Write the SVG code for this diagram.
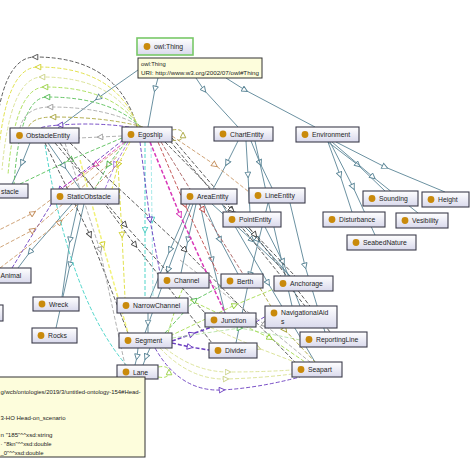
<svg xmlns="http://www.w3.org/2000/svg" width="474" height="474" viewBox="0 0 474 474">
<defs>
<linearGradient id="g" x1="0" y1="0" x2="0" y2="1"><stop offset="0" stop-color="#ffffff"/><stop offset="1" stop-color="#d9d9ec"/></linearGradient>
<marker id="m-s" viewBox="0 0 10 10" refX="5" refY="5" markerWidth="7" markerHeight="7" markerUnits="userSpaceOnUse" orient="auto"><path d="M1,1 L9,5 L1,9 z" fill="#fff" stroke="#5a8596" stroke-width="1.3"/></marker>
<marker id="m-k" viewBox="0 0 10 10" refX="5" refY="5" markerWidth="7" markerHeight="7" markerUnits="userSpaceOnUse" orient="auto"><path d="M1,1 L9,5 L1,9 z" fill="#fff" stroke="#4a4a4a" stroke-width="1.3"/></marker>
<marker id="m-y" viewBox="0 0 10 10" refX="5" refY="5" markerWidth="7" markerHeight="7" markerUnits="userSpaceOnUse" orient="auto"><path d="M1,1 L9,5 L1,9 z" fill="#fff" stroke="#cfcf2a" stroke-width="1.3"/></marker>
<marker id="m-y2" viewBox="0 0 10 10" refX="5" refY="5" markerWidth="7" markerHeight="7" markerUnits="userSpaceOnUse" orient="auto"><path d="M1,1 L9,5 L1,9 z" fill="#fff" stroke="#c8d080" stroke-width="1.3"/></marker>
<marker id="m-l" viewBox="0 0 10 10" refX="5" refY="5" markerWidth="7" markerHeight="7" markerUnits="userSpaceOnUse" orient="auto"><path d="M1,1 L9,5 L1,9 z" fill="#fff" stroke="#96d040" stroke-width="1.3"/></marker>
<marker id="m-g" viewBox="0 0 10 10" refX="5" refY="5" markerWidth="7" markerHeight="7" markerUnits="userSpaceOnUse" orient="auto"><path d="M1,1 L9,5 L1,9 z" fill="#fff" stroke="#50b850" stroke-width="1.3"/></marker>
<marker id="m-gr" viewBox="0 0 10 10" refX="5" refY="5" markerWidth="7" markerHeight="7" markerUnits="userSpaceOnUse" orient="auto"><path d="M1,1 L9,5 L1,9 z" fill="#fff" stroke="#999" stroke-width="1.3"/></marker>
<marker id="m-o" viewBox="0 0 10 10" refX="5" refY="5" markerWidth="7" markerHeight="7" markerUnits="userSpaceOnUse" orient="auto"><path d="M1,1 L9,5 L1,9 z" fill="#fff" stroke="#a6a238" stroke-width="1.3"/></marker>
<marker id="m-p" viewBox="0 0 10 10" refX="5" refY="5" markerWidth="7" markerHeight="7" markerUnits="userSpaceOnUse" orient="auto"><path d="M1,1 L9,5 L1,9 z" fill="#fff" stroke="#6a3cc0" stroke-width="1.3"/></marker>
<marker id="m-p2" viewBox="0 0 10 10" refX="5" refY="5" markerWidth="7" markerHeight="7" markerUnits="userSpaceOnUse" orient="auto"><path d="M1,1 L9,5 L1,9 z" fill="#fff" stroke="#a070e0" stroke-width="1.3"/></marker>
<marker id="m-m" viewBox="0 0 10 10" refX="5" refY="5" markerWidth="7" markerHeight="7" markerUnits="userSpaceOnUse" orient="auto"><path d="M1,1 L9,5 L1,9 z" fill="#fff" stroke="#d838b8" stroke-width="1.3"/></marker>
<marker id="m-c" viewBox="0 0 10 10" refX="5" refY="5" markerWidth="7" markerHeight="7" markerUnits="userSpaceOnUse" orient="auto"><path d="M1,1 L9,5 L1,9 z" fill="#fff" stroke="#3cc8bc" stroke-width="1.3"/></marker>
<marker id="m-t" viewBox="0 0 10 10" refX="5" refY="5" markerWidth="7" markerHeight="7" markerUnits="userSpaceOnUse" orient="auto"><path d="M1,1 L9,5 L1,9 z" fill="#fff" stroke="#c48f5e" stroke-width="1.3"/></marker>
<marker id="m-r" viewBox="0 0 10 10" refX="5" refY="5" markerWidth="7" markerHeight="7" markerUnits="userSpaceOnUse" orient="auto"><path d="M1,1 L9,5 L1,9 z" fill="#fff" stroke="#c04848" stroke-width="1.3"/></marker>
<style>
.n rect{fill:url(#g);stroke:#3c3c4c;stroke-width:1.1}
.n circle{fill:#c98a0b}
.n text{font-family:"Liberation Sans",Arial,sans-serif;font-size:6.8px;fill:#1e1e1e}
.tip rect{fill:#fdfddc;stroke:#333;stroke-width:1}
.tip text{font-family:"Liberation Sans",Arial,sans-serif;font-size:5.8px;fill:#222}
#connectors path{fill:none;stroke-width:0.9}
.s{stroke:#5a8596;marker-mid:url(#m-s)}
.d{stroke-dasharray:4 2}
.k{stroke:#4a4a4a;marker-mid:url(#m-k)}
.y{stroke:#dede3a;marker-mid:url(#m-y)}
.y2{stroke:#d8e090;marker-mid:url(#m-y2)}
.yl{stroke:#f2f27a;marker-mid:url(#m-y)}
.l{stroke:#a6dc50;marker-mid:url(#m-l)}
.g{stroke:#58c058;marker-mid:url(#m-g)}
.g2{stroke:#b8e4a8;marker-mid:url(#m-g)}
.gr{stroke:#a8a8a8;marker-mid:url(#m-gr)}
.o{stroke:#aaa640;marker-mid:url(#m-o)}
.p{stroke:#6a3cc0;marker-mid:url(#m-p)}
.p2{stroke:#a070e0;marker-mid:url(#m-p2)}
.m{stroke:#d838b8;marker-mid:url(#m-m)}
.c{stroke:#3cd0c4;marker-mid:url(#m-c)}
.c2{stroke:#9ee6e6;marker-mid:url(#m-c)}
.t{stroke:#c99a6a;marker-mid:url(#m-t)}
.r{stroke:#c04848;marker-mid:url(#m-r)}
.r2{stroke:#a86060;marker-mid:url(#m-r)}
.nm{marker-mid:none}
#connectors path.w{stroke-width:1.5}
</style>
</defs>
<rect width="474" height="474" fill="#fff"/>
<g id="connectors">
<path class="s" d="M138,70 L98,98 L58,128"/>
<path class="s" d="M158,78 L155,89 L148,127"/>
<path class="s" d="M196,78 L204,90 L238,127"/>
<path class="s" d="M226,78 L245,90 L315,127"/>
<path class="s" d="M238,141 L227,163 L213,189"/>
<path class="s" d="M246,141 L248,175 L250,212"/>
<path class="s" d="M251,141 L260,163 L272,188"/>
<path class="s" d="M255,141 L273,223 L292,306"/>
<path class="s" d="M328,142 L358,165 L385,191"/>
<path class="s" d="M336,142 L385,167 L445,192"/>
<path class="s" d="M332,142 L373,177 L418,213"/>
<path class="s" d="M328,142 L340,175 L352,212"/>
<path class="s" d="M330,142 L353,187 L375,235"/>
<path class="s" d="M48,143 L64,166 L80,189"/>
<path class="s" d="M30,143 L22,163 L12,184"/>
<path class="s" d="M78,204 L70,240 L62,297"/>
<path class="s" d="M84,204 L70,265 L56,328"/>
<path class="s" d="M72,204 L30,252 L18,268"/>
<path class="s" d="M196,204 L188,240 L181,273"/>
<path class="s" d="M204,204 L220,240 L238,274"/>
<path class="s" d="M212,204 L252,240 L290,276"/>
<path class="s" d="M222,204 L268,283 L315,362"/>
<path class="s" d="M190,204 L170,250 L150,298"/>
<path class="s" d="M200,204 L212,260 L225,313"/>
<path class="s" d="M193,204 L168,270 L145,333"/>
<path class="s" d="M138,348 L137,357 L135,365"/>
<path class="s" d="M150,348 L146,357 L143,365"/>
<path class="s" d="M148,313 L148,323 L148,333"/>
<path class="s" d="M245,227 L258,240 L290,276"/>
<path class="s" d="M265,227 L283,262 L300,306"/>
<path class="s" d="M290,203 L305,266 L325,332"/>
<path class="s" d="M268,203 L250,275 L236,343"/>
<path class="d k" d="M137,127 Q118,57 35,57 Q0,57 -6,150"/>
<path class="d y" d="M138,127 Q116,67 38,67 Q5,67 -2,160"/>
<path class="d y2" d="M139,127 Q114,77 42,77 Q10,77 2,170"/>
<path class="d l" d="M140,127 Q112,87 45,87 Q15,87 8,175"/>
<path class="d g" d="M141,127 Q110,97 47,97 Q20,97 14,184"/>
<path class="d gr" d="M142,127 Q108,107 50,107 Q25,107 20,128"/>
<path class="d o" d="M143,127 Q106,117 53,117 Q32,117 28,128"/>
<path class="d p" d="M135,128 Q100,122 60,125 Q45,126 40,128"/>
<path class="d p" d="M123,140 L60,190 L12,268"/>
<path class="d m" d="M125,142 L95,165 L60,189"/>
<path class="d g" d="M126,142 L108,165 L95,189"/>
<path class="d p2" d="M128,142 L115,165 L105,189"/>
<path class="d y" d="M130,142 L118,165 L112,189"/>
<path class="d gr" d="M122,136 L100,137 L79,138"/>
<path class="d g" d="M122,138 L70,160 L20,184"/>
<path class="d t" d="M-5,232 L33,213 L120,148"/>
<path class="d t" d="M-5,250 L33,230 L118,156"/>
<path class="d t" d="M0,268 L60,222 L122,160"/>
<path class="d c nm" d="M45,145 Q70,300 127,366"/>
<path class="d c" d="M145,142 L145,230 L145,298"/>
<path class="d c2" d="M151,142 L152,220 L153,298"/>
<path class="d r" d="M158,142 L185,205 L218,274"/>
<path class="d r2" d="M161,142 L203,210 L243,274"/>
<path class="d k" d="M165,142 L232,210 L295,276"/>
<path class="d k" d="M170,141 L240,225 L305,306"/>
<path class="d k" d="M172,138 L255,235 L330,332"/>
<path class="d t" d="M172,136 L215,165 L249,192"/>
<path class="d k" d="M55,143 L125,225 L205,313"/>
<path class="d k" d="M60,143 L135,245 L212,343"/>
<path class="d k" d="M45,143 L90,235 L128,333"/>
<path class="d k" d="M70,143 L185,250 L295,362"/>
<path class="d gr" d="M65,143 L100,250 L125,365"/>
<path class="d yl w" d="M80,160 L103,245 L128,333"/>
<path class="d y" d="M118,165 L122,235 L125,298"/>
<path class="d m w" d="M150,142 L180,215 L225,313"/>
<path class="d p" d="M140,142 L150,220 L160,273"/>
<path class="d p w" d="M172,341 L192,334 L212,327"/>
<path class="d p w" d="M172,343 L190,347 L209,350"/>
<path class="d p" d="M155,348 Q180,392 222,390 Q258,388 300,377"/>
<path class="d y2" d="M165,348 Q195,372 228,372 Q262,372 292,370"/>
<path class="d y2" d="M160,348 Q190,380 226,379 Q262,378 292,374"/>
<path class="d g" d="M165,333 L195,300 L221,286"/>
<path class="d l" d="M168,333 L178,300 L183,288"/>
<path class="d l" d="M170,336 L235,305 L276,288"/>
<path class="d g2" d="M172,338 L240,328 L300,340"/>
<path class="d y2" d="M205,325 L258,348 L300,364"/>
<path class="d l" d="M190,300 L270,338 L305,362"/>
<path class="d gr" d="M180,260 L265,325 L310,362"/>
<path class="d o" d="M260,288 L285,330 L315,362"/>
<path class="d p nm" d="M256,322 L266,316"/>
<path class="d o" d="M172,140 Q183,142 183,135 Q183,128 172,130"/>
<path class="d l" d="M158,377 Q169,379 169,372 Q169,365 158,367"/>
</g>
<g id="owl-thing" class="n"><rect x="137" y="38" width="56" height="17" style="stroke:#78c868;stroke-width:1.6"/><circle cx="147" cy="46.5" r="3.4"/><text x="154" y="49">owl:Thing</text></g>
<g id="obstacle-entity" class="n"><rect x="10" y="128" width="69" height="15"/><circle cx="19.5" cy="135.5" r="3.4"/><text x="26" y="138">ObstacleEntity</text></g>
<g id="egoship" class="n"><rect x="122" y="127" width="50" height="15"/><circle cx="131" cy="134.5" r="3.4"/><text x="138" y="137">Egoship</text></g>
<g id="chart-entity" class="n"><rect x="214" y="127" width="59" height="14"/><circle cx="223" cy="134" r="3.4"/><text x="230" y="136.5">ChartEntity</text></g>
<g id="environment" class="n"><rect x="296" y="127" width="63" height="15"/><circle cx="305" cy="134.5" r="3.4"/><text x="312" y="137">Environment</text></g>
<g id="obstacle" class="n"><rect x="-22" y="184" width="50" height="14"/><circle cx="-13" cy="191" r="3.4"/><text x="1" y="193.5">stacle</text></g>
<g id="static-obstacle" class="n"><rect x="51" y="189" width="68" height="15"/><circle cx="60" cy="196.5" r="3.4"/><text x="67" y="199">StaticObstacle</text></g>
<g id="area-entity" class="n"><rect x="181" y="189" width="56" height="15"/><circle cx="190" cy="196.5" r="3.4"/><text x="197" y="199">AreaEntity</text></g>
<g id="line-entity" class="n"><rect x="249" y="188" width="56" height="15"/><circle cx="258" cy="195.5" r="3.4"/><text x="265" y="198">LineEntity</text></g>
<g id="point-entity" class="n"><rect x="223" y="212" width="58" height="15"/><circle cx="232" cy="219.5" r="3.4"/><text x="239" y="222">PointEntity</text></g>
<g id="sounding" class="n"><rect x="363" y="191" width="55" height="15"/><circle cx="372" cy="198.5" r="3.4"/><text x="379" y="201">Sounding</text></g>
<g id="height" class="n"><rect x="422" y="192" width="47" height="15"/><circle cx="431" cy="199.5" r="3.4"/><text x="438" y="202">Height</text></g>
<g id="disturbance" class="n"><rect x="323" y="212" width="62" height="15"/><circle cx="332" cy="219.5" r="3.4"/><text x="339" y="222">Disturbance</text></g>
<g id="visibility" class="n"><rect x="396" y="213" width="52" height="15"/><circle cx="405" cy="220.5" r="3.4"/><text x="412" y="223">Vesibility</text></g>
<g id="seabed-nature" class="n"><rect x="347" y="235" width="69" height="15"/><circle cx="356" cy="242.5" r="3.4"/><text x="363" y="245">SeabedNature</text></g>
<g id="animal" class="n"><rect x="-16" y="268" width="47" height="15"/><circle cx="-7" cy="275.5" r="3.4"/><text x="0.5" y="278">Animal</text></g>
<g id="channel" class="n"><rect x="158" y="273" width="51" height="15"/><circle cx="167" cy="280.5" r="3.4"/><text x="174" y="283">Channel</text></g>
<g id="berth" class="n"><rect x="221" y="274" width="42" height="14"/><circle cx="230" cy="281" r="3.4"/><text x="237" y="283.5">Berth</text></g>
<g id="anchorage" class="n"><rect x="274" y="276" width="59" height="15"/><circle cx="283" cy="283.5" r="3.4"/><text x="290" y="286">Anchorage</text></g>
<g id="wreck" class="n"><rect x="33" y="297" width="46" height="14"/><circle cx="42" cy="304" r="3.4"/><text x="49" y="306.5">Wreck</text></g>
<g id="narrow-channel" class="n"><rect x="117" y="298" width="71" height="15"/><circle cx="126" cy="305.5" r="3.4"/><text x="133" y="308">NarrowChannel</text></g>
<g id="partial-left" class="n"><rect x="-40" y="305" width="43" height="16"/></g>
<g id="junction" class="n"><rect x="205" y="313" width="51" height="14"/><circle cx="214" cy="320" r="3.4"/><text x="221" y="322.5">Junction</text></g>
<g id="navigational-aids" class="n"><rect x="265" y="306" width="72" height="22"/><circle cx="274" cy="313" r="3.4"/><text x="281" y="315">NavigationalAid</text><text x="281" y="324">s</text></g>
<g id="rocks" class="n"><rect x="32" y="328" width="45" height="15"/><circle cx="41" cy="335.5" r="3.4"/><text x="48" y="338">Rocks</text></g>
<g id="segment" class="n"><rect x="119" y="333" width="53" height="15"/><circle cx="128" cy="340.5" r="3.4"/><text x="135" y="343">Segment</text></g>
<g id="divider" class="n"><rect x="209" y="343" width="48" height="15"/><circle cx="218" cy="350.5" r="3.4"/><text x="225" y="353">Divider</text></g>
<g id="reporting-line" class="n"><rect x="300" y="332" width="67" height="15"/><circle cx="309" cy="339.5" r="3.4"/><text x="316" y="342">ReportingLine</text></g>
<g id="lane" class="n"><rect x="117" y="365" width="41" height="14"/><circle cx="126" cy="372" r="3.4"/><text x="133" y="374.5">Lane</text></g>
<g id="seapart" class="n"><rect x="292" y="362" width="50" height="15"/><circle cx="301" cy="369.5" r="3.4"/><text x="308" y="372">Seapart</text></g>
<g id="tip-owl-thing" class="tip"><rect x="138" y="58" width="124" height="20"/><text x="141" y="66">owl:Thing</text><text x="141" y="75" textLength="118" lengthAdjust="spacingAndGlyphs">URI:  http://www.w3.org/2002/07/owl#Thing</text></g>
<g id="tip-instance" class="tip"><rect x="-10" y="377" width="155" height="80"/><text x="0.5" y="394" textLength="140" lengthAdjust="spacingAndGlyphs">g/wcb/ontologies/2019/3/untitled-ontology-154#Head-</text><text x="0.5" y="420" textLength="65" lengthAdjust="spacingAndGlyphs">3-HO Head-on_scenario</text><text x="0.5" y="437" textLength="52" lengthAdjust="spacingAndGlyphs">n "185"^^xsd:string</text><text x="0.5" y="446" textLength="51" lengthAdjust="spacingAndGlyphs">· "8kn"^^xsd:double</text><text x="0.5" y="455" textLength="43" lengthAdjust="spacingAndGlyphs">_0"^^xsd:double</text></g>
</svg>
